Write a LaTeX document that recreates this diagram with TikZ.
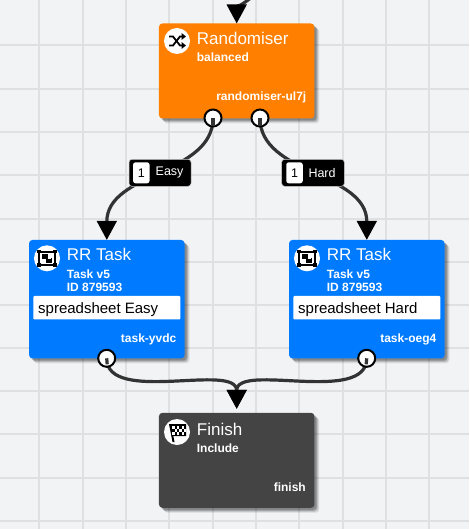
\documentclass[tikz,border=0pt]{standalone}
\usepackage{fontspec}
\setmainfont{Liberation Sans}
\usetikzlibrary{arrows.meta,shadows,calc}
\definecolor{bgc}{HTML}{F2F3F5}
\definecolor{gridc}{HTML}{DFE0E2}
\definecolor{orangec}{HTML}{FF8000}
\definecolor{bluec}{HTML}{007BFF}
\definecolor{darkc}{HTML}{444444}
\definecolor{edgec}{HTML}{333333}
\definecolor{labedge}{HTML}{C8C8C8}
\tikzset{
  x=1pt,y=-1pt,
  softshadow/.style={
    drop shadow={shadow xshift=5pt,shadow yshift=-5pt,opacity=.07,fill=black},
    drop shadow={shadow xshift=4pt,shadow yshift=-4pt,opacity=.12,fill=black},
    drop shadow={shadow xshift=3pt,shadow yshift=-3pt,opacity=.16,fill=black},
    drop shadow={shadow xshift=2pt,shadow yshift=-2pt,opacity=.18,fill=black}},
  block/.style={rectangle,rounded corners=3.5pt,minimum width=155.5pt,inner sep=0pt,outer sep=0pt,softshadow},
  title/.style={anchor=base west,text=white,font=\fontsize{17}{17}\selectfont,inner sep=0pt},
  subt/.style={anchor=base west,text=white,font=\fontsize{12}{12}\selectfont\bfseries,inner sep=0pt},
  nodeid/.style={anchor=base east,text=white,font=\fontsize{12}{12}\selectfont\bfseries,inner sep=0pt},
  iconbg/.style={circle,fill=white,minimum size=26pt,inner sep=0pt},
  port/.style={circle,fill=white,draw=black,line width=2pt,minimum size=17pt,inner sep=0pt},
  link/.style={draw=edgec,line width=3.2pt,-{Triangle[width=19.5pt,length=19pt,fill=black,color=black]}},
  portline/.style={draw=edgec,line width=3.2pt},
  lab/.style={rectangle,rounded corners=3pt,fill=black,draw=labedge,line width=.5pt,text=white,inner sep=0pt,minimum height=27pt},
  num/.style={rectangle,rounded corners=2.5pt,fill=white,text=black,inner sep=0pt,minimum width=16.5pt,minimum height=21pt,font=\fontsize{12.5}{12.5}\selectfont},
  labtext/.style={text=white,font=\fontsize{12.5}{12.5}\selectfont,anchor=west,inner sep=0pt},
  sheet/.style={rectangle,rounded corners=1pt,fill=white,inner sep=0pt,minimum width=147pt,minimum height=23.5pt},
  sheettext/.style={anchor=base west,text=black,inner sep=0pt,font=\fontsize{15}{15}\selectfont},
}
\begin{document}
\begin{tikzpicture}
\useasboundingbox (0,0) rectangle (469,529);
\fill[bgc] (0,0) rectangle (469,529);
% grid
\foreach \gx in {-4,39.3,82.6,126,169.3,212.6,256,299.3,342.6,386,429.3}
  \draw[gridc,line width=2pt] (\gx,0) -- (\gx,529);
\foreach \gy in {45.3,88.6,132,175.3,218.6,262,305.3,348.3,391,434.3,477.6,521}
  \draw[gridc,line width=2pt] (0,\gy) -- (469,\gy);

% blocks
\node[block,fill=orangec,minimum height=95pt] (rand) at (236.7,71) {};
\node[block,fill=bluec,minimum height=118.5pt] (taskL) at (106.8,299.2) {};
\node[block,fill=bluec,minimum height=118.5pt] (taskR) at (366.8,299.2) {};
\node[block,fill=darkc,minimum height=95pt] (finish) at (236.7,460.3) {};

% ports
\coordinate (pA) at (213,118);
\coordinate (pB) at (260,118);
\coordinate (pC) at (106.7,358.3);
\coordinate (pD) at (366.7,358.3);
\coordinate (topin) at (252,-3);

% connectors
\draw[link] (topin) .. controls (243,4) and (236.7,8) .. (rand.north);
\draw[link] (pA) .. controls (213,175) and (106.8,172) .. (taskL.north);
\draw[link] (pB) .. controls (260,175) and (366.8,172) .. (taskR.north);
\draw[link] (pC) .. controls (106.7,405) and (236.7,362) .. ($(finish.north)+(0,4pt)$);
\draw[link] (pD) .. controls (366.7,405) and (236.7,362) .. ($(finish.north)+(0,4pt)$);

% port circles
\node[port] (portA) at (pA) {};
\node[port] (portB) at (pB) {};
\node[port] (portC) at (pC) {};
\node[port] (portD) at (pD) {};
\draw[portline] (pA) -- ++(0,8);
\draw[portline] (pB) -- ++(0,8);
\draw[portline] (pC) -- ++(0.5,6);
\draw[portline] (pD) -- ++(-0.5,6);

% labels
\node[lab,minimum width=62pt] (labE) at (160,172.8) {};
\node[lab,minimum width=62.6pt] (labH) at (313,172.8) {};
\node[num] (numE) at (141.3,172.8) {1};
\node[num] (numH) at (294.5,172.8) {1};
\node[labtext] (txtE) at (155.5,172.8) {Easy};
\node[labtext] (txtH) at (308.3,172.8) {Hard};

% icons
\node[iconbg] (iconR) at (177,41) {};
\node[iconbg] (iconL) at (47,258.3) {};
\node[iconbg] (iconT) at (307,258.3) {};
\node[iconbg] (iconF) at (177,432) {};

% shuffle icon
\begin{scope}[shift={(177,41)}]
  \draw[black,line width=1.8pt] (-8,-4.5) -- (-4,-4.5) -- (3,4.5) -- (5,4.5);
  \draw[black,line width=1.8pt] (-8,4.5) -- (-4,4.5) -- (3,-4.5) -- (5,-4.5);
  \fill[black] (4.5,-8) -- (9,-4.5) -- (4.5,-1) -- cycle;
  \fill[black] (4.5,8) -- (9,4.5) -- (4.5,1) -- cycle;
\end{scope}

% picture icon
\foreach \cx/\cy in {47/258.3,307/258.3}{
\begin{scope}[shift={(\cx,\cy)}]
  \draw[black,line width=1.8pt] (-8,-6.5) rectangle (8,6.5);
  \fill[black] (-10,-8.5) rectangle (-6,-5);
  \fill[black] (6,-8.5) rectangle (10,-5);
  \fill[black] (-10,5) rectangle (-6,8.5);
  \fill[black] (6,5) rectangle (10,8.5);
  \fill[black] (-5,-4) rectangle (1,0.5);
  \fill[black] (-1,0) rectangle (5,4.2);
  \fill[white] (1,0.5) rectangle (3.5,-1) ;
\end{scope}}

% flag icon
\begin{scope}[shift={(177,432)}]
  \fill[black] (-8,-8) -- (-6,-8) -- (-2.5,10) -- (-4.5,10) -- cycle;
  \fill[black] (-7,-8) -- (9,-8) -- (9,4) -- (-4.8,4) -- cycle;
  \foreach \i/\j in {0/0,2/0,4/0,1/1,3/1,5/1,0/2,2/2,4/2}
    \fill[white] ({-4.6+\i*2.3},{-6+\j*2.9}) rectangle ++(2.3,2.9);
\end{scope}

% texts
\node[title] (tR) at (196.7,44.5) {Randomiser};
\node[subt] (sR) at (196.7,62) {balanced};
\node[nodeid] (iR) at (306.5,101) {randomiser-ul7j};

\node[title] (tL) at (66.7,260.8) {RR Task};
\node[subt] (sL1) at (66.7,278) {Task v5};
\node[subt] (sL2) at (66.7,291) {ID 879593};
\node[sheet] (bL) at (106.8,307.7) {};
\node[sheettext] (stL) at (38,313) {spreadsheet Easy};
\node[nodeid] (iL) at (176.5,342) {task-yvdc};

\node[title] (tT) at (326.7,260.8) {RR Task};
\node[subt] (sT1) at (326.7,278) {Task v5};
\node[subt] (sT2) at (326.7,291) {ID 879593};
\node[sheet] (bR) at (366.8,307.7) {};
\node[sheettext] (stR) at (298,313) {spreadsheet Hard};
\node[nodeid] (iT) at (436.5,342) {task-oeg4};

\node[title] (tF) at (196.7,435) {Finish};
\node[subt] (sF) at (196.7,452) {Include};
\node[nodeid] (iF) at (306,491) {finish};
\end{tikzpicture}
\end{document}
